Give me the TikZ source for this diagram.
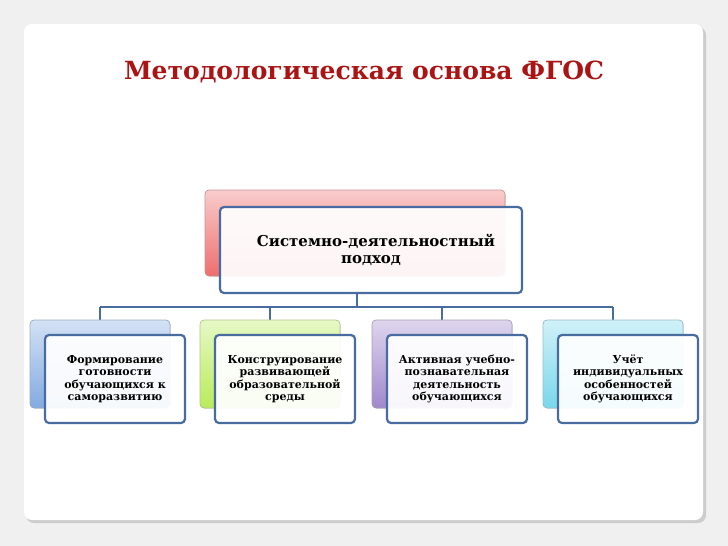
\documentclass[tikz,border=0pt]{standalone}
\usepackage{fontspec}
\setmainfont{DejaVu Serif}
\begin{document}
\begin{tikzpicture}[x=1pt,y=-1pt,
  back/.style={rounded corners=4pt, draw=#1!70!black!60, line width=0.6pt, top color=#1!35, bottom color=#1},
  front/.style={rounded corners=4pt, draw=bord, line width=2.2pt, fill=white, fill opacity=0.93, text opacity=1, align=center, font=\bfseries\fontsize{11}{12.5}\selectfont},
  conn/.style={draw=bord, line width=1.2pt}]
\definecolor{bord}{RGB}{72,108,160}
\definecolor{cred}{RGB}{238,110,110}
\definecolor{cblue}{RGB}{130,170,225}
\definecolor{cgreen}{RGB}{185,235,90}
\definecolor{cpurp}{RGB}{160,135,205}
\definecolor{ccyan}{RGB}{120,215,235}
\definecolor{ttl}{RGB}{170,20,20}
\fill[gray!12] (0,0) rectangle (728,546);
\useasboundingbox (0,0) rectangle (728,546);
\fill[gray!40, rounded corners=8pt] (26,27) rectangle (706,523);
\fill[white, rounded corners=8pt] (24,24) rectangle (703,520);
\node (title) at (364,72) {\color{ttl}\bfseries\fontsize{25}{28}\selectfont Методологическая основа ФГОС};
% top
\fill[back=cred] (205,190) rectangle (505,276);
\node[front, font=\bfseries\fontsize{15}{17}\selectfont, minimum width=302pt, minimum height=86pt] (top) at (371,250) {\hspace*{10pt}Системно-деятельностный\\подход};
\coordinate (hub) at (357,307);
\draw[conn] (top.south -| hub) -- (hub);
\foreach \x/\c/\n/\t in {100/cblue/a/{Формирование\\готовности\\обучающихся к\\саморазвитию},
  270/cgreen/b/{Конструирование\\развивающей\\образовательной\\среды},
  442/cpurp/c/{Активная учебно-\\познавательная\\деятельность\\обучающихся},
  613/ccyan/d/{Учёт\\индивидуальных\\особенностей\\обучающихся}}{
  \coordinate (t\n) at (\x,320);
  \draw[conn] (hub -| t\n) -- (t\n);
  \fill[back=\c] (\x-70,320) rectangle (\x+70,408);
  \node[front, minimum width=140pt, minimum height=88pt] (\n) at (\x+15,379) {\t};
}
\draw[conn] (hub -| ta) -- (hub -| td);
\end{tikzpicture}
\end{document}
